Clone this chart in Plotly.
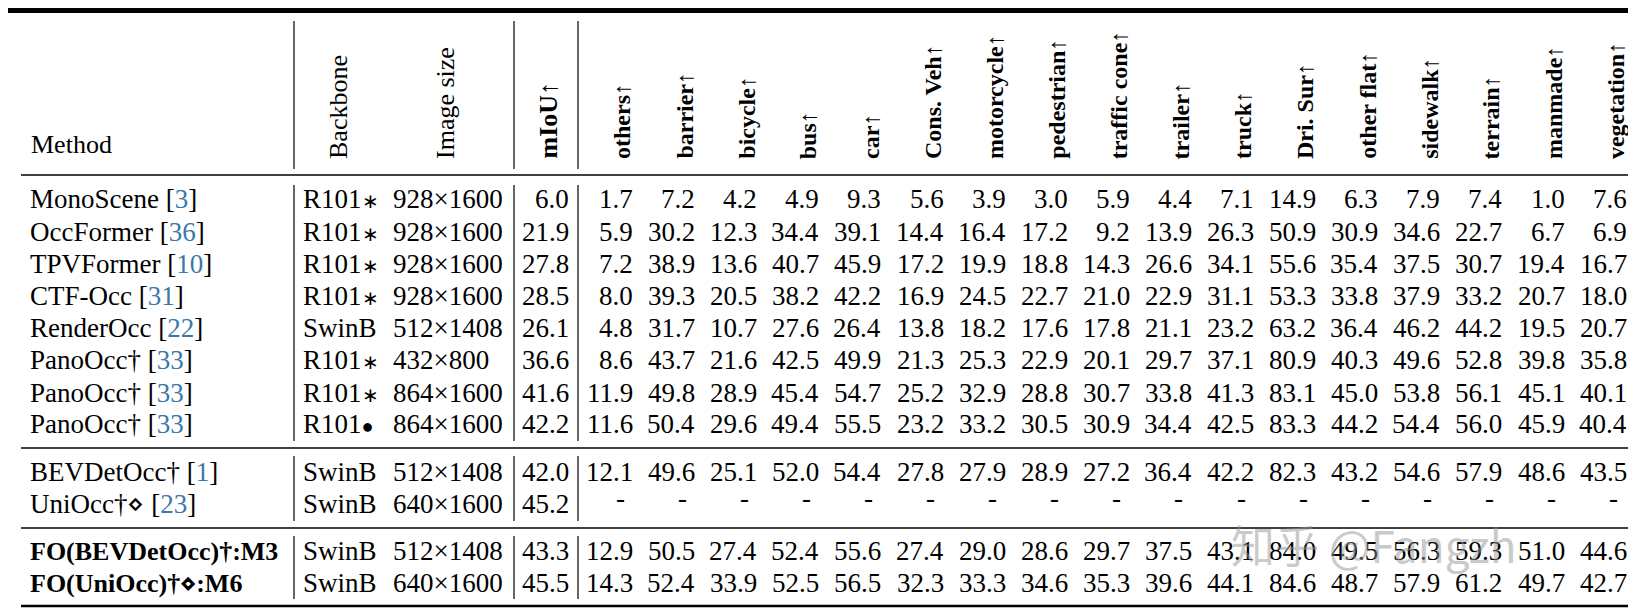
import plotly.graph_objects as go

methods = ["MonoScene", "OccFormer", "TPVFormer", "CTF-Occ", "RenderOcc", "PanoOcc†", "PanoOcc†", "PanoOcc†",
           "BEVDetOcc†", "UniOcc†⋄", "FO(BEVDetOcc)†:M3", "FO(UniOcc)†⋄:M6"]
refs = ["3", "36", "10", "31", "22", "33", "33", "33", "1", "23", "", ""]
backbones = ["R101∗", "R101∗", "R101∗", "R101∗", "SwinB", "R101∗", "R101∗", "R101●", "SwinB", "SwinB", "SwinB", "SwinB"]
image_sizes = ["928×1600", "928×1600", "928×1600", "928×1600", "512×1408", "432×800", "864×1600", "864×1600",
               "512×1408", "640×1600", "512×1408", "640×1600"]
miou = ["6.0", "21.9", "27.8", "28.5", "26.1", "36.6", "41.6", "42.2", "42.0", "45.2", "43.3", "45.5"]
classes = ["others↑", "barrier↑", "bicycle↑", "bus↑", "car↑", "Cons. Veh↑", "motorcycle↑", "pedestrian↑",
           "traffic cone↑", "trailer↑", "truck↑", "Dri. Sur↑", "other flat↑", "sidewalk↑", "terrain↑",
           "manmade↑", "vegetation↑"]
values = [
    "1.7 7.2 4.2 4.9 9.3 5.6 3.9 3.0 5.9 4.4 7.1 14.9 6.3 7.9 7.4 1.0 7.6",
    "5.9 30.2 12.3 34.4 39.1 14.4 16.4 17.2 9.2 13.9 26.3 50.9 30.9 34.6 22.7 6.7 6.9",
    "7.2 38.9 13.6 40.7 45.9 17.2 19.9 18.8 14.3 26.6 34.1 55.6 35.4 37.5 30.7 19.4 16.7",
    "8.0 39.3 20.5 38.2 42.2 16.9 24.5 22.7 21.0 22.9 31.1 53.3 33.8 37.9 33.2 20.7 18.0",
    "4.8 31.7 10.7 27.6 26.4 13.8 18.2 17.6 17.8 21.1 23.2 63.2 36.4 46.2 44.2 19.5 20.7",
    "8.6 43.7 21.6 42.5 49.9 21.3 25.3 22.9 20.1 29.7 37.1 80.9 40.3 49.6 52.8 39.8 35.8",
    "11.9 49.8 28.9 45.4 54.7 25.2 32.9 28.8 30.7 33.8 41.3 83.1 45.0 53.8 56.1 45.1 40.1",
    "11.6 50.4 29.6 49.4 55.5 23.2 33.2 30.5 30.9 34.4 42.5 83.3 44.2 54.4 56.0 45.9 40.4",
    "12.1 49.6 25.1 52.0 54.4 27.8 27.9 28.9 27.2 36.4 42.2 82.3 43.2 54.6 57.9 48.6 43.5",
    "- - - - - - - - - - - - - - - - -",
    "12.9 50.5 27.4 52.4 55.6 27.4 29.0 28.6 29.7 37.5 43.1 84.0 49.5 56.3 59.3 51.0 44.6",
    "14.3 52.4 33.9 52.5 56.5 32.3 33.3 34.6 35.3 39.6 44.1 84.6 48.7 57.9 61.2 49.7 42.7",
]
bold_rows = [10, 11]

# layout constants
W, H = 1636, 614
FONT = "Liberation Serif"
FS = 27
row_y = [191, 224, 256, 288, 320, 352, 385, 416, 464, 496, 543, 575]
col_right0, col_step = 627, 62.1
link = "#3b78aa"

ann = []
def A(x, y, t, **kw):
    d = dict(x=x, y=y, text=t, showarrow=False, xref="x", yref="y",
             font=dict(family=kw.pop("family", FONT), size=kw.pop("size", FS), color=kw.pop("color", "black")))
    d.update(kw)
    ann.append(d)

# header
A(21, 153, "Method", xanchor="left", yanchor="bottom", size=26)
A(330, 153, "Backbone", textangle=-90, xanchor="center", yanchor="bottom", size=26)
A(437, 153, "Image size", textangle=-90, xanchor="center", yanchor="bottom", size=26)
A(540, 153, "<b>mIoU↑</b>", textangle=-90, xanchor="center", yanchor="bottom", size=26)
for j, c in enumerate(classes):
    A(col_right0 + j * col_step - 13, 153, "<b>" + c + "</b>", textangle=-90,
      xanchor="center", yanchor="bottom", size=24)

for i, m in enumerate(methods):
    y = row_y[i]
    t = m
    if refs[i]:
        t += ' [<span style="color:%s">%s</span>]' % (link, refs[i])
    if i in bold_rows:
        t = "<b>" + t + "</b>"
    A(20, y, t, xanchor="left", yanchor="middle", size=26 if i in bold_rows else FS)
    bb = backbones[i]
    if bb[-1] in "∗●":
        bb = bb[:-1] + '<span style="font-size:20px">%s</span>' % bb[-1]
    A(293, y, bb, xanchor="left", yanchor="middle")
    A(383, y, image_sizes[i], xanchor="left", yanchor="middle")
    A(563, y, miou[i], xanchor="right", yanchor="middle")
    for j, v in enumerate(values[i].split()):
        if v == "-":
            A(col_right0 + j * col_step - 15, y - 6, v, xanchor="center", yanchor="middle")
        else:
            A(col_right0 + j * col_step, y, v, xanchor="right", yanchor="middle")

# watermark
A(1365, 536, "知乎 @Fangzh", xanchor="center", yanchor="middle", size=44,
  color="rgba(150,150,150,0.5)", family="Noto Sans CJK SC")

shapes = []
def L(x0, y0, x1, y1, w=1.5):
    shapes.append(dict(type="line", x0=x0, y0=y0, x1=x1, y1=y1, xref="x", yref="y",
                       line=dict(color="black", width=w)))

shapes.append(dict(type="rect", x0=0, y0=0, x1=W, y1=5, xref="x", yref="y",
                   fillcolor="black", line=dict(width=0)))
L(13, 167, 1628, 167, 1.5)
L(13, 440, 1628, 440, 1.5)
L(13, 520, 1628, 520, 1.5)
L(13, 598, 1628, 598, 2.5)
for x in (286, 506, 570):
    for (a, b) in ((13, 161), (177, 433), (448, 513), (528, 591)):
        L(x, a, x, b, 1.2)

fig = go.Figure()
fig.update_layout(width=W, height=H, margin=dict(l=0, r=0, t=0, b=0),
                  paper_bgcolor="white", plot_bgcolor="white",
                  xaxis=dict(range=[0, W], visible=False, fixedrange=True),
                  yaxis=dict(range=[H, 0], visible=False, fixedrange=True),
                  annotations=ann, shapes=shapes, showlegend=False)
fig.write_html("out.html")
